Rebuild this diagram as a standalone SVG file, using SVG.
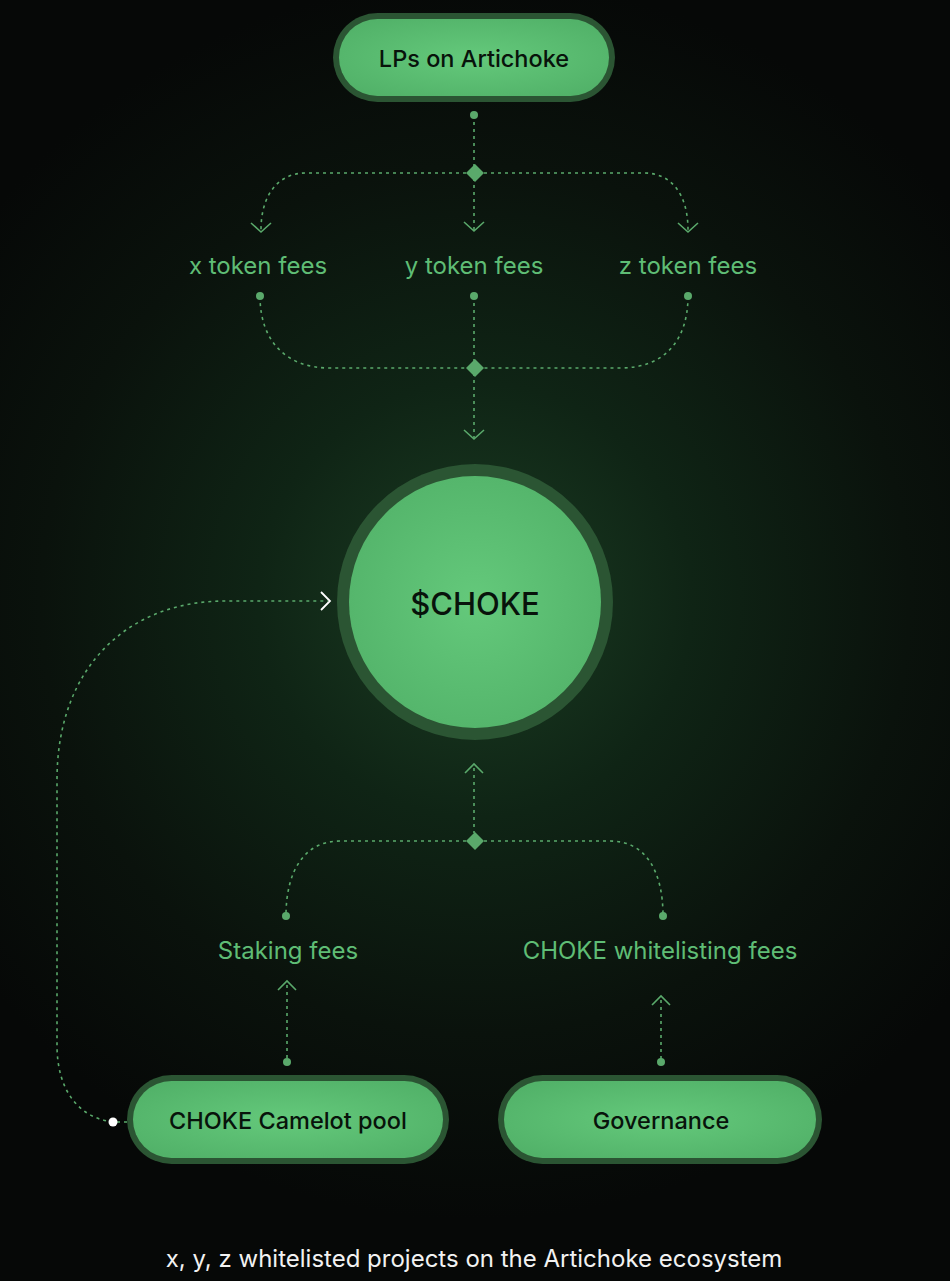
<svg xmlns="http://www.w3.org/2000/svg" width="950" height="1281" viewBox="0 0 950 1281">
<defs>
<radialGradient id="bg" cx="475" cy="600" r="620" gradientUnits="userSpaceOnUse">
<stop offset="0" stop-color="#1b3d23"/>
<stop offset="0.35" stop-color="#0f2415"/>
<stop offset="0.7" stop-color="#0a120c"/>
<stop offset="1" stop-color="#060807"/>
</radialGradient>
<radialGradient id="fill" cx="0.5" cy="0.5" r="0.6">
<stop offset="0" stop-color="#64c97b"/>
<stop offset="1" stop-color="#52b269"/>
</radialGradient>
<style>
.ring{fill:#2b5533}
.pill{fill:url(#fill)}
.nt{font-family:Inter,"Liberation Sans",sans-serif;fill:#08130b;text-anchor:middle;dominant-baseline:central;font-weight:500}
.lb{font-family:Inter,"Liberation Sans",sans-serif;fill:#5fbd75;font-size:24px;text-anchor:middle;dominant-baseline:central}
.dl{fill:none;stroke:#5aa96b;stroke-width:1.6;stroke-dasharray:3 4}
.ch{fill:none;stroke:#5aa96b;stroke-width:1.6}
.dot{fill:#5aa96b}
</style>
</defs>
<rect width="950" height="1281" fill="url(#bg)"/>

<g id="connectors">
<path class="dl" d="M474 115 V230"/>
<path class="dl" d="M466 173 H306 C278 173 261 195 261 230"/>
<path class="dl" d="M484 173 H644 C672 173 688 195 688 230"/>
<polyline class="ch" points="251,223 261,232 271,223"/>
<polyline class="ch" points="464,222 474,231 484,222"/>
<polyline class="ch" points="678,223 688,232 698,223"/>
<path d="M475 164 L484 173 L475 182 L466 173 Z" fill="#5aa96b"/>
<circle class="dot" cx="474" cy="115" r="4"/>

<circle class="dot" cx="260" cy="296" r="4"/>
<circle class="dot" cx="474" cy="296" r="4"/>
<circle class="dot" cx="688" cy="296" r="4"/>
<path class="dl" d="M260 296 C260 340 285 368 330 368 H466"/>
<path class="dl" d="M688 296 C688 340 665 368 620 368 H484"/>
<path class="dl" d="M474 296 V438"/>
<path d="M475 359 L484 368 L475 377 L466 368 Z" fill="#5aa96b"/>
<polyline class="ch" points="464,430 474,439 484,430"/>

<path class="dl" d="M127 1122 H113 C80 1118 57 1092 57 1045 V780 C57 665 130 601 225 601 H328"/>
<polyline fill="none" stroke="#ffffff" stroke-width="1.8" points="321,592 330,601 321,610"/>
<circle cx="113" cy="1122" r="4.5" fill="#ffffff"/>

<path class="dl" d="M474 768 V833"/>
<polyline class="ch" points="465,773 474,764 483,773"/>
<path class="dl" d="M466 841 H340 C305 841 286 870 286 916"/>
<path class="dl" d="M484 841 H610 C645 841 663 870 663 916"/>
<path d="M475 832 L484 841 L475 850 L466 841 Z" fill="#5aa96b"/>
<circle class="dot" cx="286" cy="916" r="4"/>
<circle class="dot" cx="663" cy="916" r="4"/>

<path class="dl" d="M287 985 V1062"/>
<polyline class="ch" points="278,990 287,981 296,990"/>
<circle class="dot" cx="287" cy="1062" r="4"/>
<path class="dl" d="M661 1000 V1062"/>
<polyline class="ch" points="652,1005 661,996 670,1005"/>
<circle class="dot" cx="661" cy="1062" r="4"/>
</g>

<g id="node-lps">
<rect class="ring" x="333" y="13" width="282" height="89" rx="44.5"/>
<rect class="pill" x="339" y="19" width="270" height="77" rx="38.5"/>
<text class="nt" x="474" y="58" font-size="23.5">LPs on Artichoke</text>
</g>

<g id="node-x"><text class="lb" x="258" y="265">x token fees</text></g>
<g id="node-y"><text class="lb" x="474" y="265">y token fees</text></g>
<g id="node-z"><text class="lb" x="688" y="265">z token fees</text></g>

<g id="node-choke">
<circle class="ring" cx="475" cy="602" r="138"/>
<circle class="pill" cx="475" cy="602" r="126"/>
<text class="nt" x="475" y="603" font-size="31">$CHOKE</text>
</g>

<g id="node-staking"><text class="lb" x="288" y="950">Staking fees</text></g>
<g id="node-whitelisting"><text class="lb" x="660" y="950">CHOKE whitelisting fees</text></g>

<g id="node-camelot">
<rect class="ring" x="127" y="1075" width="322" height="89" rx="44.5"/>
<rect class="pill" x="133" y="1081" width="310" height="77" rx="38.5"/>
<text class="nt" x="288" y="1120" font-size="23.5">CHOKE Camelot pool</text>
</g>

<g id="node-governance">
<rect class="ring" x="498" y="1075" width="324" height="89" rx="44.5"/>
<rect class="pill" x="504" y="1081" width="312" height="77" rx="38.5"/>
<text class="nt" x="661" y="1120" font-size="23.5">Governance</text>
</g>

<text x="474" y="1258" font-family="Inter,'Liberation Sans',sans-serif" font-size="24" fill="#f2f2f2" text-anchor="middle" dominant-baseline="central">x, y, z whitelisted projects on the Artichoke ecosystem</text>
</svg>
